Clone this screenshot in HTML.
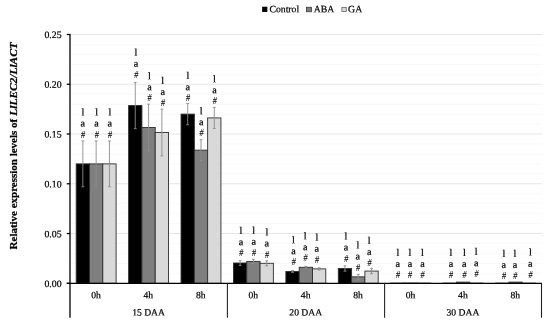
<!DOCTYPE html>
<html><head><meta charset="utf-8"><title>Chart</title>
<style>html,body{margin:0;padding:0;background:#fff}body{width:550px;height:323px;position:relative;overflow:hidden}</style>
</head><body>
<svg width="550" height="323" viewBox="0 0 550 323" style="position:absolute;left:0;top:0">
<line x1="70.0" x2="542.3" y1="273.35" y2="273.35" stroke="#f8f8f8" stroke-width="1"/>
<line x1="70.0" x2="542.3" y1="263.40" y2="263.40" stroke="#f8f8f8" stroke-width="1"/>
<line x1="70.0" x2="542.3" y1="253.44" y2="253.44" stroke="#f8f8f8" stroke-width="1"/>
<line x1="70.0" x2="542.3" y1="243.49" y2="243.49" stroke="#f8f8f8" stroke-width="1"/>
<line x1="70.0" x2="542.3" y1="233.54" y2="233.54" stroke="#e6e6e6" stroke-width="1"/>
<line x1="70.0" x2="542.3" y1="223.59" y2="223.59" stroke="#f8f8f8" stroke-width="1"/>
<line x1="70.0" x2="542.3" y1="213.64" y2="213.64" stroke="#f8f8f8" stroke-width="1"/>
<line x1="70.0" x2="542.3" y1="203.68" y2="203.68" stroke="#f8f8f8" stroke-width="1"/>
<line x1="70.0" x2="542.3" y1="193.73" y2="193.73" stroke="#f8f8f8" stroke-width="1"/>
<line x1="70.0" x2="542.3" y1="183.78" y2="183.78" stroke="#e6e6e6" stroke-width="1"/>
<line x1="70.0" x2="542.3" y1="173.83" y2="173.83" stroke="#f8f8f8" stroke-width="1"/>
<line x1="70.0" x2="542.3" y1="163.88" y2="163.88" stroke="#f8f8f8" stroke-width="1"/>
<line x1="70.0" x2="542.3" y1="153.92" y2="153.92" stroke="#f8f8f8" stroke-width="1"/>
<line x1="70.0" x2="542.3" y1="143.97" y2="143.97" stroke="#f8f8f8" stroke-width="1"/>
<line x1="70.0" x2="542.3" y1="134.02" y2="134.02" stroke="#e6e6e6" stroke-width="1"/>
<line x1="70.0" x2="542.3" y1="124.07" y2="124.07" stroke="#f8f8f8" stroke-width="1"/>
<line x1="70.0" x2="542.3" y1="114.12" y2="114.12" stroke="#f8f8f8" stroke-width="1"/>
<line x1="70.0" x2="542.3" y1="104.16" y2="104.16" stroke="#f8f8f8" stroke-width="1"/>
<line x1="70.0" x2="542.3" y1="94.21" y2="94.21" stroke="#f8f8f8" stroke-width="1"/>
<line x1="70.0" x2="542.3" y1="84.26" y2="84.26" stroke="#e6e6e6" stroke-width="1"/>
<line x1="70.0" x2="542.3" y1="74.31" y2="74.31" stroke="#f8f8f8" stroke-width="1"/>
<line x1="70.0" x2="542.3" y1="64.36" y2="64.36" stroke="#f8f8f8" stroke-width="1"/>
<line x1="70.0" x2="542.3" y1="54.40" y2="54.40" stroke="#f8f8f8" stroke-width="1"/>
<line x1="70.0" x2="542.3" y1="44.45" y2="44.45" stroke="#f8f8f8" stroke-width="1"/>
<line x1="70.0" x2="542.3" y1="34.50" y2="34.50" stroke="#e6e6e6" stroke-width="1"/>
<rect x="76.20" y="163.88" width="13.3" height="119.42" fill="#000000" stroke="#2e2e2e" stroke-width="0.9"/>
<rect x="89.50" y="163.88" width="13.3" height="119.42" fill="#7f7f7f" stroke="#2e2e2e" stroke-width="0.9"/>
<rect x="102.80" y="163.88" width="13.3" height="119.42" fill="#d9d9d9" stroke="#2e2e2e" stroke-width="0.9"/>
<rect x="128.62" y="105.56" width="13.3" height="177.74" fill="#000000" stroke="#2e2e2e" stroke-width="0.9"/>
<rect x="141.92" y="127.45" width="13.3" height="155.85" fill="#7f7f7f" stroke="#2e2e2e" stroke-width="0.9"/>
<rect x="155.22" y="132.53" width="13.3" height="150.77" fill="#d9d9d9" stroke="#2e2e2e" stroke-width="0.9"/>
<rect x="181.04" y="114.12" width="13.3" height="169.18" fill="#000000" stroke="#2e2e2e" stroke-width="0.9"/>
<rect x="194.34" y="150.14" width="13.3" height="133.16" fill="#7f7f7f" stroke="#2e2e2e" stroke-width="0.9"/>
<rect x="207.64" y="117.90" width="13.3" height="165.40" fill="#d9d9d9" stroke="#2e2e2e" stroke-width="0.9"/>
<rect x="233.46" y="263.00" width="13.3" height="20.30" fill="#000000" stroke="#2e2e2e" stroke-width="0.9"/>
<rect x="246.76" y="261.41" width="13.3" height="21.89" fill="#7f7f7f" stroke="#2e2e2e" stroke-width="0.9"/>
<rect x="260.06" y="263.30" width="13.3" height="20.00" fill="#d9d9d9" stroke="#2e2e2e" stroke-width="0.9"/>
<rect x="285.88" y="271.46" width="13.3" height="11.84" fill="#000000" stroke="#2e2e2e" stroke-width="0.9"/>
<rect x="299.18" y="267.28" width="13.3" height="16.02" fill="#7f7f7f" stroke="#2e2e2e" stroke-width="0.9"/>
<rect x="312.48" y="268.87" width="13.3" height="14.43" fill="#d9d9d9" stroke="#2e2e2e" stroke-width="0.9"/>
<rect x="338.30" y="268.47" width="13.3" height="14.83" fill="#000000" stroke="#2e2e2e" stroke-width="0.9"/>
<rect x="351.60" y="276.83" width="13.3" height="6.47" fill="#7f7f7f" stroke="#2e2e2e" stroke-width="0.9"/>
<rect x="364.90" y="271.06" width="13.3" height="12.24" fill="#d9d9d9" stroke="#2e2e2e" stroke-width="0.9"/>
<rect x="390.72" y="283.10" width="13.3" height="0.20" fill="#000000" stroke="#2e2e2e" stroke-width="0.9"/>
<rect x="404.02" y="283.00" width="13.3" height="0.30" fill="#7f7f7f" stroke="#2e2e2e" stroke-width="0.9"/>
<rect x="417.32" y="283.10" width="13.3" height="0.20" fill="#d9d9d9" stroke="#2e2e2e" stroke-width="0.9"/>
<rect x="443.14" y="283.10" width="13.3" height="0.20" fill="#000000" stroke="#2e2e2e" stroke-width="0.9"/>
<rect x="456.44" y="282.11" width="13.3" height="1.19" fill="#7f7f7f" stroke="#2e2e2e" stroke-width="0.9"/>
<rect x="469.74" y="283.10" width="13.3" height="0.20" fill="#d9d9d9" stroke="#2e2e2e" stroke-width="0.9"/>
<rect x="495.56" y="283.10" width="13.3" height="0.20" fill="#000000" stroke="#2e2e2e" stroke-width="0.9"/>
<rect x="508.86" y="282.11" width="13.3" height="1.19" fill="#7f7f7f" stroke="#2e2e2e" stroke-width="0.9"/>
<rect x="522.16" y="283.10" width="13.3" height="0.20" fill="#d9d9d9" stroke="#2e2e2e" stroke-width="0.9"/>
<path d="M82.85 140.99V186.77M81.45 140.99h2.8M81.45 186.77h2.8" stroke="#8c8c8c" stroke-width="0.9" fill="none"/>
<path d="M96.15 140.99V186.77M94.75 140.99h2.8M94.75 186.77h2.8" stroke="#8c8c8c" stroke-width="0.9" fill="none"/>
<path d="M109.45 140.99V186.77M108.05 140.99h2.8M108.05 186.77h2.8" stroke="#8c8c8c" stroke-width="0.9" fill="none"/>
<path d="M135.27 82.47V128.65M133.87 82.47h2.8M133.87 128.65h2.8" stroke="#8c8c8c" stroke-width="0.9" fill="none"/>
<path d="M148.57 104.16V150.74M147.17 104.16h2.8M147.17 150.74h2.8" stroke="#8c8c8c" stroke-width="0.9" fill="none"/>
<path d="M161.87 109.14V155.91M160.47 109.14h2.8M160.47 155.91h2.8" stroke="#8c8c8c" stroke-width="0.9" fill="none"/>
<path d="M187.69 103.47V124.76M186.29 103.47h2.8M186.29 124.76h2.8" stroke="#8c8c8c" stroke-width="0.9" fill="none"/>
<path d="M200.99 139.69V160.59M199.59 139.69h2.8M199.59 160.59h2.8" stroke="#8c8c8c" stroke-width="0.9" fill="none"/>
<path d="M214.29 107.35V128.45M212.89 107.35h2.8M212.89 128.45h2.8" stroke="#8c8c8c" stroke-width="0.9" fill="none"/>
<path d="M240.11 260.61V265.39M238.71 260.61h2.8M238.71 265.39h2.8" stroke="#8c8c8c" stroke-width="0.9" fill="none"/>
<path d="M253.41 259.22V263.60M252.01 259.22h2.8M252.01 263.60h2.8" stroke="#8c8c8c" stroke-width="0.9" fill="none"/>
<path d="M266.71 260.81V265.78M265.31 260.81h2.8M265.31 265.78h2.8" stroke="#8c8c8c" stroke-width="0.9" fill="none"/>
<path d="M292.53 270.56V272.35M291.13 270.56h2.8M291.13 272.35h2.8" stroke="#8c8c8c" stroke-width="0.9" fill="none"/>
<path d="M305.83 266.38V268.17M304.43 266.38h2.8M304.43 268.17h2.8" stroke="#8c8c8c" stroke-width="0.9" fill="none"/>
<path d="M319.13 267.77V269.96M317.73 267.77h2.8M317.73 269.96h2.8" stroke="#8c8c8c" stroke-width="0.9" fill="none"/>
<path d="M344.95 265.78V271.16M343.55 265.78h2.8M343.55 271.16h2.8" stroke="#8c8c8c" stroke-width="0.9" fill="none"/>
<path d="M358.25 274.44V279.22M356.85 274.44h2.8M356.85 279.22h2.8" stroke="#8c8c8c" stroke-width="0.9" fill="none"/>
<path d="M371.55 268.37V273.75M370.15 268.37h2.8M370.15 273.75h2.8" stroke="#8c8c8c" stroke-width="0.9" fill="none"/>
<path d="M70.0 34.00V317.7M66.8 283.3H542.0" stroke="#000" stroke-width="1.3" fill="none"/>
<path d="M541.5 283.3V317.7M227.4 283.3V317.7M384.6 283.3V317.7" stroke="#1c1c1c" stroke-width="1.05" fill="none"/>
<line x1="66.8" x2="70.0" y1="283.30" y2="283.30" stroke="#000" stroke-width="1.3"/>
<line x1="66.8" x2="70.0" y1="233.54" y2="233.54" stroke="#000" stroke-width="1.3"/>
<line x1="66.8" x2="70.0" y1="183.78" y2="183.78" stroke="#000" stroke-width="1.3"/>
<line x1="66.8" x2="70.0" y1="134.02" y2="134.02" stroke="#000" stroke-width="1.3"/>
<line x1="66.8" x2="70.0" y1="84.26" y2="84.26" stroke="#000" stroke-width="1.3"/>
<line x1="66.8" x2="70.0" y1="34.50" y2="34.50" stroke="#000" stroke-width="1.3"/>
<g font-family="'Liberation Serif', serif" fill="#000" stroke="#000" stroke-width="0.22">
<text transform="translate(61.6 286.90) rotate(0.03)" font-size="9.8" text-anchor="end">0.00</text>
<text transform="translate(61.6 237.14) rotate(0.03)" font-size="9.8" text-anchor="end">0.05</text>
<text transform="translate(61.6 187.38) rotate(0.03)" font-size="9.8" text-anchor="end">0.10</text>
<text transform="translate(61.6 137.62) rotate(0.03)" font-size="9.8" text-anchor="end">0.15</text>
<text transform="translate(61.6 87.86) rotate(0.03)" font-size="9.8" text-anchor="end">0.20</text>
<text transform="translate(61.6 38.10) rotate(0.03)" font-size="9.8" text-anchor="end">0.25</text>
<text transform="translate(95.95 298.2) rotate(0.03)" font-size="9.6" text-anchor="middle">0h</text>
<text transform="translate(148.37 298.2) rotate(0.03)" font-size="9.6" text-anchor="middle">4h</text>
<text transform="translate(200.79 298.2) rotate(0.03)" font-size="9.6" text-anchor="middle">8h</text>
<text transform="translate(253.21 298.2) rotate(0.03)" font-size="9.6" text-anchor="middle">0h</text>
<text transform="translate(305.63 298.2) rotate(0.03)" font-size="9.6" text-anchor="middle">4h</text>
<text transform="translate(358.05 298.2) rotate(0.03)" font-size="9.6" text-anchor="middle">8h</text>
<text transform="translate(410.47 298.2) rotate(0.03)" font-size="9.6" text-anchor="middle">0h</text>
<text transform="translate(462.89 298.2) rotate(0.03)" font-size="9.6" text-anchor="middle">4h</text>
<text transform="translate(515.31 298.2) rotate(0.03)" font-size="9.6" text-anchor="middle">8h</text>
<text transform="translate(148.58 315.5) rotate(0.03)" font-size="9.6" text-anchor="middle">15 DAA</text>
<text transform="translate(305.75 315.5) rotate(0.03)" font-size="9.6" text-anchor="middle">20 DAA</text>
<text transform="translate(462.92 315.5) rotate(0.03)" font-size="9.6" text-anchor="middle">30 DAA</text>
<text transform="translate(82.80 115.50) rotate(0.03)" font-size="10.2" text-anchor="middle">l</text>
<text transform="translate(82.80 126.55) rotate(0.03)" font-size="10.2" text-anchor="middle">a</text>
<text transform="translate(82.80 137.70) rotate(0.03) skewX(-5) scale(0.8 1)" font-size="10.2" text-anchor="middle" stroke-width="0.1">#</text>
<text transform="translate(96.60 115.50) rotate(0.03)" font-size="10.2" text-anchor="middle">l</text>
<text transform="translate(96.60 126.55) rotate(0.03)" font-size="10.2" text-anchor="middle">a</text>
<text transform="translate(96.60 137.70) rotate(0.03) skewX(-5) scale(0.8 1)" font-size="10.2" text-anchor="middle" stroke-width="0.1">#</text>
<text transform="translate(109.80 115.50) rotate(0.03)" font-size="10.2" text-anchor="middle">l</text>
<text transform="translate(109.80 126.55) rotate(0.03)" font-size="10.2" text-anchor="middle">a</text>
<text transform="translate(109.80 137.70) rotate(0.03) skewX(-5) scale(0.8 1)" font-size="10.2" text-anchor="middle" stroke-width="0.1">#</text>
<text transform="translate(136.00 55.80) rotate(0.03)" font-size="10.2" text-anchor="middle">l</text>
<text transform="translate(136.00 66.85) rotate(0.03)" font-size="10.2" text-anchor="middle">a</text>
<text transform="translate(136.00 78.00) rotate(0.03) skewX(-5) scale(0.8 1)" font-size="10.2" text-anchor="middle" stroke-width="0.1">#</text>
<text transform="translate(149.40 79.20) rotate(0.03)" font-size="10.2" text-anchor="middle">l</text>
<text transform="translate(149.40 90.25) rotate(0.03)" font-size="10.2" text-anchor="middle">a</text>
<text transform="translate(149.40 101.40) rotate(0.03) skewX(-5) scale(0.8 1)" font-size="10.2" text-anchor="middle" stroke-width="0.1">#</text>
<text transform="translate(162.70 84.00) rotate(0.03)" font-size="10.2" text-anchor="middle">l</text>
<text transform="translate(162.70 95.05) rotate(0.03)" font-size="10.2" text-anchor="middle">a</text>
<text transform="translate(162.70 106.20) rotate(0.03) skewX(-5) scale(0.8 1)" font-size="10.2" text-anchor="middle" stroke-width="0.1">#</text>
<text transform="translate(187.80 79.10) rotate(0.03)" font-size="10.2" text-anchor="middle">l</text>
<text transform="translate(187.80 90.15) rotate(0.03)" font-size="10.2" text-anchor="middle">a</text>
<text transform="translate(187.80 101.30) rotate(0.03) skewX(-5) scale(0.8 1)" font-size="10.2" text-anchor="middle" stroke-width="0.1">#</text>
<text transform="translate(201.20 114.30) rotate(0.03)" font-size="10.2" text-anchor="middle">l</text>
<text transform="translate(201.20 125.35) rotate(0.03)" font-size="10.2" text-anchor="middle">a</text>
<text transform="translate(201.20 136.50) rotate(0.03) skewX(-5) scale(0.8 1)" font-size="10.2" text-anchor="middle" stroke-width="0.1">#</text>
<text transform="translate(214.50 82.30) rotate(0.03)" font-size="10.2" text-anchor="middle">l</text>
<text transform="translate(214.50 93.35) rotate(0.03)" font-size="10.2" text-anchor="middle">a</text>
<text transform="translate(214.50 104.50) rotate(0.03) skewX(-5) scale(0.8 1)" font-size="10.2" text-anchor="middle" stroke-width="0.1">#</text>
<text transform="translate(241.00 234.10) rotate(0.03)" font-size="10.2" text-anchor="middle">l</text>
<text transform="translate(241.00 245.15) rotate(0.03)" font-size="10.2" text-anchor="middle">a</text>
<text transform="translate(241.00 256.30) rotate(0.03) skewX(-5) scale(0.8 1)" font-size="10.2" text-anchor="middle" stroke-width="0.1">#</text>
<text transform="translate(253.70 233.80) rotate(0.03)" font-size="10.2" text-anchor="middle">l</text>
<text transform="translate(253.70 244.85) rotate(0.03)" font-size="10.2" text-anchor="middle">a</text>
<text transform="translate(253.70 256.00) rotate(0.03) skewX(-5) scale(0.8 1)" font-size="10.2" text-anchor="middle" stroke-width="0.1">#</text>
<text transform="translate(266.80 235.40) rotate(0.03)" font-size="10.2" text-anchor="middle">l</text>
<text transform="translate(266.80 246.45) rotate(0.03)" font-size="10.2" text-anchor="middle">a</text>
<text transform="translate(266.80 257.60) rotate(0.03) skewX(-5) scale(0.8 1)" font-size="10.2" text-anchor="middle" stroke-width="0.1">#</text>
<text transform="translate(293.50 243.30) rotate(0.03)" font-size="10.2" text-anchor="middle">l</text>
<text transform="translate(293.50 254.35) rotate(0.03)" font-size="10.2" text-anchor="middle">a</text>
<text transform="translate(293.50 265.50) rotate(0.03) skewX(-5) scale(0.8 1)" font-size="10.2" text-anchor="middle" stroke-width="0.1">#</text>
<text transform="translate(305.20 239.20) rotate(0.03)" font-size="10.2" text-anchor="middle">l</text>
<text transform="translate(305.20 250.25) rotate(0.03)" font-size="10.2" text-anchor="middle">a</text>
<text transform="translate(305.20 261.40) rotate(0.03) skewX(-5) scale(0.8 1)" font-size="10.2" text-anchor="middle" stroke-width="0.1">#</text>
<text transform="translate(316.80 240.80) rotate(0.03)" font-size="10.2" text-anchor="middle">l</text>
<text transform="translate(316.80 251.85) rotate(0.03)" font-size="10.2" text-anchor="middle">a</text>
<text transform="translate(316.80 263.00) rotate(0.03) skewX(-5) scale(0.8 1)" font-size="10.2" text-anchor="middle" stroke-width="0.1">#</text>
<text transform="translate(346.00 239.50) rotate(0.03)" font-size="10.2" text-anchor="middle">l</text>
<text transform="translate(346.00 250.55) rotate(0.03)" font-size="10.2" text-anchor="middle">a</text>
<text transform="translate(346.00 261.70) rotate(0.03) skewX(-5) scale(0.8 1)" font-size="10.2" text-anchor="middle" stroke-width="0.1">#</text>
<text transform="translate(357.80 248.40) rotate(0.03)" font-size="10.2" text-anchor="middle">l</text>
<text transform="translate(357.80 259.45) rotate(0.03)" font-size="10.2" text-anchor="middle">a</text>
<text transform="translate(357.80 270.60) rotate(0.03) skewX(-5) scale(0.8 1)" font-size="10.2" text-anchor="middle" stroke-width="0.1">#</text>
<text transform="translate(369.20 244.00) rotate(0.03)" font-size="10.2" text-anchor="middle">l</text>
<text transform="translate(369.20 255.05) rotate(0.03)" font-size="10.2" text-anchor="middle">a</text>
<text transform="translate(369.20 266.20) rotate(0.03) skewX(-5) scale(0.8 1)" font-size="10.2" text-anchor="middle" stroke-width="0.1">#</text>
<text transform="translate(397.80 255.90) rotate(0.03)" font-size="10.2" text-anchor="middle">l</text>
<text transform="translate(397.80 266.95) rotate(0.03)" font-size="10.2" text-anchor="middle">a</text>
<text transform="translate(397.80 278.10) rotate(0.03) skewX(-5) scale(0.8 1)" font-size="10.2" text-anchor="middle" stroke-width="0.1">#</text>
<text transform="translate(409.90 255.90) rotate(0.03)" font-size="10.2" text-anchor="middle">l</text>
<text transform="translate(409.90 266.95) rotate(0.03)" font-size="10.2" text-anchor="middle">a</text>
<text transform="translate(409.90 278.10) rotate(0.03) skewX(-5) scale(0.8 1)" font-size="10.2" text-anchor="middle" stroke-width="0.1">#</text>
<text transform="translate(422.40 255.90) rotate(0.03)" font-size="10.2" text-anchor="middle">l</text>
<text transform="translate(422.40 266.95) rotate(0.03)" font-size="10.2" text-anchor="middle">a</text>
<text transform="translate(422.40 278.10) rotate(0.03) skewX(-5) scale(0.8 1)" font-size="10.2" text-anchor="middle" stroke-width="0.1">#</text>
<text transform="translate(450.90 256.00) rotate(0.03)" font-size="10.2" text-anchor="middle">l</text>
<text transform="translate(450.90 267.05) rotate(0.03)" font-size="10.2" text-anchor="middle">a</text>
<text transform="translate(450.90 278.20) rotate(0.03) skewX(-5) scale(0.8 1)" font-size="10.2" text-anchor="middle" stroke-width="0.1">#</text>
<text transform="translate(464.30 256.00) rotate(0.03)" font-size="10.2" text-anchor="middle">l</text>
<text transform="translate(464.30 267.05) rotate(0.03)" font-size="10.2" text-anchor="middle">a</text>
<text transform="translate(464.30 278.20) rotate(0.03) skewX(-5) scale(0.8 1)" font-size="10.2" text-anchor="middle" stroke-width="0.1">#</text>
<text transform="translate(476.20 255.10) rotate(0.03)" font-size="10.2" text-anchor="middle">l</text>
<text transform="translate(476.20 266.15) rotate(0.03)" font-size="10.2" text-anchor="middle">a</text>
<text transform="translate(476.20 277.30) rotate(0.03) skewX(-5) scale(0.8 1)" font-size="10.2" text-anchor="middle" stroke-width="0.1">#</text>
<text transform="translate(503.80 256.90) rotate(0.03)" font-size="10.2" text-anchor="middle">l</text>
<text transform="translate(503.80 267.95) rotate(0.03)" font-size="10.2" text-anchor="middle">a</text>
<text transform="translate(503.80 279.10) rotate(0.03) skewX(-5) scale(0.8 1)" font-size="10.2" text-anchor="middle" stroke-width="0.1">#</text>
<text transform="translate(515.00 256.90) rotate(0.03)" font-size="10.2" text-anchor="middle">l</text>
<text transform="translate(515.00 267.95) rotate(0.03)" font-size="10.2" text-anchor="middle">a</text>
<text transform="translate(515.00 279.10) rotate(0.03) skewX(-5) scale(0.8 1)" font-size="10.2" text-anchor="middle" stroke-width="0.1">#</text>
<text transform="translate(530.30 255.60) rotate(0.03)" font-size="10.2" text-anchor="middle">l</text>
<text transform="translate(530.30 266.65) rotate(0.03)" font-size="10.2" text-anchor="middle">a</text>
<text transform="translate(530.30 277.80) rotate(0.03) skewX(-5) scale(0.8 1)" font-size="10.2" text-anchor="middle" stroke-width="0.1">#</text>
<rect x="262.2" y="6.9" width="5" height="5" fill="#000"/>
<text transform="translate(269.4 12.3) rotate(0.03)" font-size="9.75">Control</text>
<rect x="306.5" y="7.25" width="4.9" height="4.5" fill="#7f7f7f" stroke="#3a3a3a" stroke-width="0.8"/>
<text transform="translate(313.7 12.3) rotate(0.03)" font-size="9.75">ABA</text>
<rect x="341.9" y="7.45" width="4.4" height="4.1" fill="#d9d9d9" stroke="#666" stroke-width="0.8"/>
<text transform="translate(348.1 12.3) rotate(0.03)" font-size="9.75">GA</text>
<text transform="translate(17.1 249.4) rotate(-90)" font-size="11" font-weight="bold" textLength="130.5" lengthAdjust="spacingAndGlyphs">Relative expression levels of</text>
<text transform="translate(17.1 115.7) rotate(-90)" font-size="11" font-weight="bold" font-style="italic" textLength="73.5" lengthAdjust="spacingAndGlyphs">LlLEC2/LlACT</text>
</g>
</svg>
</body></html>
